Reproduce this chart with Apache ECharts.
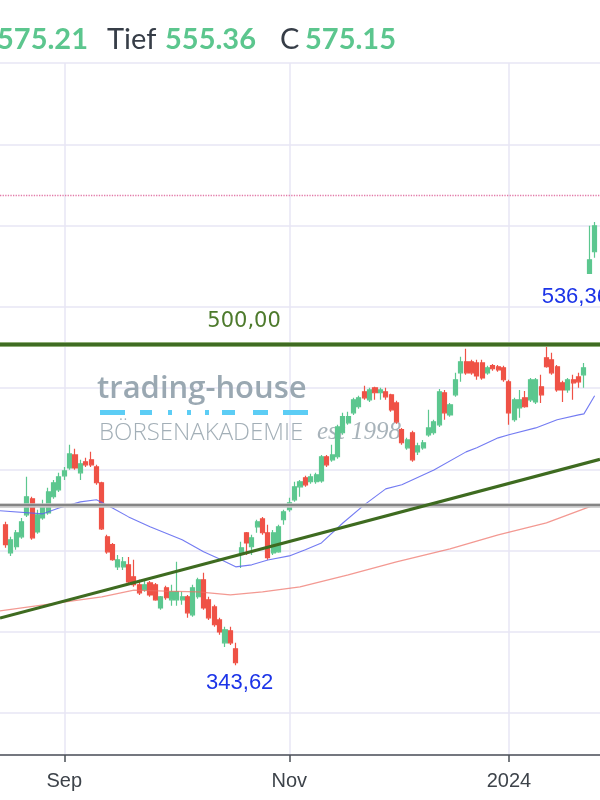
<!DOCTYPE html>
<html><head><meta charset="utf-8">
<script src="https://cdn.jsdelivr.net/npm/echarts@6/dist/echarts.min.js"></script>
<style>html,body{margin:0;padding:0;background:#fff}#c{width:600px;height:800px}</style>
</head><body><div id="c"></div>
<script>
const categories = [
'2023-08-16','2023-08-17','2023-08-18','2023-08-21','2023-08-22','2023-08-23','2023-08-24','2023-08-25','2023-08-28','2023-08-29','2023-08-30','2023-08-31',
'2023-09-01','2023-09-05','2023-09-06','2023-09-07','2023-09-08','2023-09-11','2023-09-12','2023-09-13','2023-09-14','2023-09-15','2023-09-18','2023-09-19','2023-09-20','2023-09-21','2023-09-22','2023-09-25','2023-09-26','2023-09-27','2023-09-28','2023-09-29',
'2023-10-02','2023-10-03','2023-10-04','2023-10-05','2023-10-06','2023-10-09','2023-10-10','2023-10-11','2023-10-12','2023-10-13','2023-10-16','2023-10-17','2023-10-18','2023-10-19','2023-10-20','2023-10-23','2023-10-24','2023-10-25','2023-10-26','2023-10-27','2023-10-30','2023-10-31',
'2023-11-01','2023-11-02','2023-11-03','2023-11-06','2023-11-07','2023-11-08','2023-11-09','2023-11-10','2023-11-13','2023-11-14','2023-11-15','2023-11-16','2023-11-17','2023-11-20','2023-11-21','2023-11-22','2023-11-24','2023-11-27','2023-11-28','2023-11-29','2023-11-30',
'2023-12-01','2023-12-04','2023-12-05','2023-12-06','2023-12-07','2023-12-08','2023-12-11','2023-12-12','2023-12-13','2023-12-14','2023-12-15','2023-12-18','2023-12-19','2023-12-20','2023-12-21','2023-12-22','2023-12-26','2023-12-27','2023-12-28','2023-12-29',
'2024-01-02','2024-01-03','2024-01-04','2024-01-05','2024-01-08','2024-01-09','2024-01-10','2024-01-11','2024-01-12','2024-01-16','2024-01-17','2024-01-18','2024-01-19','2024-01-22','2024-01-23','2024-01-24','2024-01-25','2024-01-26'];

const opens = [null,412.7,398.9,401.9,406.8,417.6,425.5,409.2,416.1,418.6,426.5,429.9,
436.8,440.7,447.1,438.3,443.7,444.7,441.2,433.4,406.8,402.9,392.0,392.0,393.0,387.1,383.2,380.7,384.1,383.2,371.8,381.7,
375.8,375.8,375.8,377.3,368.4,377.3,385.6,375.8,372.3,365.9,354.6,360.5,351.7,398.9,408.8,401.9,411.7,415.6,408.8,398.9,399.4,415.2,
420.1,425.0,431.4,435.8,433.9,433.9,434.3,446.2,444.7,446.2,458.0,462.9,467.8,470.8,478.2,474.2,480.1,477.7,478.2,476.7,472.7,
459.5,450.6,458.0,448.6,450.6,457.0,458.0,461.9,477.7,466.8,476.7,487.5,492.9,492.9,492.4,492.4,487.5,491.0,490.5,490.0,
483.1,464.4,470.3,475.2,474.2,473.2,480.6,494.9,493.9,490.5,482.6,479.1,484.1,485.5,486.5,536.4,547.1,null];
const closes = [null,402.9,405.3,408.8,414.2,426.5,406.3,417.6,422.5,428.9,433.4,436.3,
439.3,447.6,440.7,442.7,442.2,442.2,433.4,410.7,399.4,395.5,395.5,394.5,384.6,383.2,379.2,383.2,378.2,375.8,377.3,376.8,
379.7,379.7,377.3,369.4,381.7,385.6,371.8,366.9,363.5,360.0,361.0,354.6,344.8,401.4,403.8,406.3,414.2,408.8,396.5,408.8,411.7,419.1,
423.5,431.4,433.9,432.4,436.3,437.3,446.2,442.2,447.1,460.9,465.9,465.9,474.2,475.2,475.2,479.1,477.7,479.1,475.7,469.3,463.4,
453.1,454.5,444.7,451.6,453.1,460.4,463.4,478.2,467.8,471.8,484.1,492.9,487.5,487.5,486.0,485.0,490.0,489.5,489.0,484.1,
467.8,474.2,474.2,470.8,484.1,484.1,476.7,490.5,487.5,479.1,479.1,484.1,482.6,483.1,490.0,543.1,559.9,null];
const lows = [null,401.4,397.4,400.4,405.8,416.6,405.3,408.3,415.2,417.6,425.5,428.9,
434.8,439.8,439.8,434.8,441.2,441.2,432.4,410.2,398.4,395.0,390.5,390.5,383.7,382.2,378.2,379.7,377.3,375.3,370.9,375.8,
372.8,372.8,373.3,366.9,367.4,376.3,370.9,365.9,362.5,358.6,352.6,353.6,343.62,391.5,397.9,397.9,408.8,407.8,395.5,397.9,398.9,412.7,
419.1,424.0,426.5,431.4,432.9,432.9,433.4,441.2,443.7,445.2,457.0,461.9,466.8,469.8,474.2,473.2,474.2,474.2,474.2,468.3,462.4,
452.1,449.6,443.7,447.1,449.6,456.0,457.0,460.9,464.4,465.9,475.7,483.1,486.5,486.5,484.1,484.1,486.5,488.5,488.0,483.1,
461.9,463.4,465.4,470.3,473.2,472.2,472.7,490.0,486.5,478.2,473.2,477.7,474.2,480.1,480.1,536.3,544.1,null];
const highs = [null,414.2,406.8,410.2,416.1,436.3,426.5,420.1,425.0,430.9,434.8,438.3,
441.2,452.1,450.1,444.7,445.7,448.6,442.2,433.9,407.8,403.8,397.9,396.9,396.9,395.5,385.6,385.6,385.1,384.1,377.7,382.7,
383.2,394.5,379.7,378.2,383.2,386.6,389.1,377.3,373.3,366.9,362.5,362.5,354.6,404.3,409.2,407.8,415.2,416.6,412.7,410.2,412.7,420.1,
426.0,433.9,434.8,436.8,437.8,438.3,447.1,447.1,452.1,461.9,467.8,468.3,475.2,476.2,481.1,480.1,480.6,480.1,480.1,477.2,473.7,
460.4,455.5,459.0,453.1,454.5,469.3,464.4,479.6,479.1,472.7,487.5,495.4,499.3,493.9,493.9,493.9,491.0,491.9,491.4,491.0,
484.1,475.2,479.1,478.6,485.0,485.0,486.5,501.3,497.4,491.4,483.6,485.0,486.5,487.5,492.4,559.9,561.8,null];

// moving averages read at sample points
const blueMA = [['2023-08-16',419.6],['2023-08-28',418.1],['2023-08-31',421.0],['2023-09-07',424.0],['2023-09-12',425.0],['2023-09-15',421.0],['2023-09-20',416.6],['2023-09-26',411.7],['2023-10-04',405.3],['2023-10-10',399.4],['2023-10-13',395.9],['2023-10-18',392.0],['2023-10-23',393.0],['2023-10-26',395.4],['2023-11-01',397.4],['2023-11-06',400.4],['2023-11-09',403.8],['2023-11-15',413.6],['2023-11-21',422.5],['2023-11-28',430.4],['2023-12-01',432.4],['2023-12-11',439.7],['2023-12-19',448.6],['2023-12-21',450.6],['2023-12-28',455.5],['2024-01-02',457.0],['2024-01-09',460.4],['2024-01-16',464.4],['2024-01-22',466.8],['2024-01-23',467.3],['2024-01-25',476.2]];
const redMA = [['2023-08-16',370.3],['2023-09-13',377.2],['2023-09-21',380.6],['2023-09-29',380.1],['2023-10-09',379.7],['2023-10-17',378.2],['2023-10-25',379.7],['2023-11-03',382.1],['2023-11-16',388.0],['2023-11-30',394.4],['2023-12-14',400.8],['2023-12-28',407.7],['2024-01-11',413.6],['2024-01-25',422.5]];

const resistance = 501.8;      // drawn "500,00" line
const resistanceLabel = '500,00';
const supportGray = 422.5;
const lastPrice = 574.7;
const trendStart = ['2023-08-16', 366.8];
const trendEnd = ['2024-01-26', 444.9];
const lowMark = ['2023-10-18', 343.62, '343,62'];
const gapMark = ['2024-01-24', 536.3, '536,36'];

const tickDates = ['2023-09-01','2023-11-01','2024-01-02'];
const tickLabels = ['Sep','Nov','2024'];
const header = {hoch:'575.21', tief:'555.36', close:'575.15'};

const candleData = categories.map((d,i)=> opens[i]==null ? '-' : [opens[i], closes[i], lows[i], highs[i]]);
const tickIdx = tickDates.map(d=>categories.indexOf(d));
const showTick = (i)=> tickIdx.indexOf(i) >= 0;

const UP='#5cc78f', DOWN='#ef5246';
const BLUE_DASH='#5ccdf5';
const chart = echarts.init(document.getElementById('c'), null, {renderer:'canvas'});
chart.setOption({
  animation:false,
  backgroundColor:'#ffffff',
  grid:{left:-2.9, right:-1.9, top:63, bottom:45, containLabel:false},
  xAxis:{
    type:'category', data:categories, boundaryGap:false,
    axisLine:{show:true, lineStyle:{color:'#4b5057', width:1.5}},
    axisTick:{show:true, length:7, interval:(i)=>showTick(i), lineStyle:{color:'#4b5057', width:1.5}},
    axisLabel:{show:true, interval:(i)=>showTick(i), margin:16, color:'#3d434a', fontSize:20, fontFamily:'Liberation Sans',
      formatter:(v)=>{const k=tickDates.indexOf(v); return k>=0?tickLabels[k]:'';}},
    splitLine:{show:true, interval:(i)=>showTick(i), lineStyle:{color:'#e7e6f4', width:1.5}}
  },
  yAxis:{
    type:'value', min:299.4, max:640, minInterval:40, maxInterval:40, scale:true,
    axisLine:{show:false}, axisTick:{show:false}, axisLabel:{show:false},
    splitLine:{show:true, lineStyle:{color:'#e7e6f4', width:1.5}}
  },
  graphic:{elements:[
    {type:'text', x:-3, y:40, z:10, style:{text:header.hoch, font:'bold 29px Lato', fill:'#5cc68e', verticalAlign:'middle'}},
    {type:'text', x:107, y:40, z:10, style:{text:'Tief', font:'29px Lato', fill:'#363d47', verticalAlign:'middle'}},
    {type:'text', x:165, y:40, z:10, style:{text:header.tief, font:'bold 29px Lato', fill:'#5cc68e', verticalAlign:'middle'}},
    {type:'text', x:280, y:40, z:10, style:{text:'C', font:'29px Lato', fill:'#363d47', verticalAlign:'middle'}},
    {type:'text', x:305, y:40, z:10, style:{text:header.close, font:'bold 29px Lato', fill:'#5cc68e', verticalAlign:'middle'}},
    // watermark
    {type:'text', x:97, y:389, z:1, style:{text:'trading-house', font:'600 31px "Open Sans"', fill:'#9aa8b2', verticalAlign:'middle'}},
    {type:'rect', z:1, shape:{x:100,y:410,width:25,height:5}, style:{fill:BLUE_DASH}},
    {type:'rect', z:1, shape:{x:140,y:410,width:12,height:5}, style:{fill:BLUE_DASH}},
    {type:'rect', z:1, shape:{x:168,y:410,width:4,height:5}, style:{fill:BLUE_DASH}},
    {type:'rect', z:1, shape:{x:187,y:410,width:4,height:5}, style:{fill:BLUE_DASH}},
    {type:'rect', z:1, shape:{x:205,y:410,width:4,height:5}, style:{fill:BLUE_DASH}},
    {type:'rect', z:1, shape:{x:222,y:410,width:13,height:5}, style:{fill:BLUE_DASH}},
    {type:'rect', z:1, shape:{x:253,y:410,width:15,height:5}, style:{fill:BLUE_DASH}},
    {type:'rect', z:1, shape:{x:283,y:410,width:25,height:5}, style:{fill:BLUE_DASH}},
    {type:'text', x:99, y:433, z:1, style:{text:'BÖRSENAKADEMIE', font:'300 24px "Open Sans"', fill:'#a3afb7', verticalAlign:'middle'}},
    {type:'text', x:317, y:432, z:1, style:{text:'est 1998', font:'italic 25px "Liberation Serif"', fill:'#a8b3ba', verticalAlign:'middle'}}
  ]},
  series:[
    {type:'line', data:[], z:2, silent:true,
      markLine:{silent:true, symbol:['none','none'], label:{show:false}, animation:false,
        data:[
          {yAxis:lastPrice, lineStyle:{color:'#e27aa8', type:'dotted', width:1.3}},
          {yAxis:supportGray, lineStyle:{color:'#c4c4c4', type:'solid', width:4.5}},
          {yAxis:supportGray, lineStyle:{color:'#858585', type:'solid', width:1.8}},
          {yAxis:resistance, lineStyle:{color:'#8fae78', type:'solid', width:5}},
          {yAxis:resistance, lineStyle:{color:'#3f6c22', type:'solid', width:3}},
          [{coord:trendStart, lineStyle:{color:'#3e6b20', type:'solid', width:3.2}},{coord:trendEnd}]
        ]}},
    {type:'candlestick', data:candleData, z:3, barWidth:4.6, silent:true,
      itemStyle:{color:UP, color0:DOWN, borderColor:UP, borderColor0:DOWN, borderWidth:1.2},
      markPoint:{silent:true, symbol:'circle', symbolSize:1, itemStyle:{color:'rgba(0,0,0,0)'},
        data:[
          {coord:[lowMark[0], lowMark[1]], label:{show:true, formatter:lowMark[2], position:'inside', offset:[4,18], color:'#1c34e8', fontSize:22, fontFamily:'Liberation Sans'}},
          {coord:[gapMark[0], gapMark[1]], label:{show:true, formatter:gapMark[2], position:'inside', offset:[-14,23], color:'#1c34e8', fontSize:22, fontFamily:'Liberation Sans'}}
        ]}},
    {type:'line', data:blueMA, z:4, symbol:'none', silent:true, lineStyle:{color:'rgba(90,100,240,0.85)', width:1.1}},
    {type:'line', data:redMA, z:4, symbol:'none', silent:true, lineStyle:{color:'rgba(238,110,100,0.7)', width:1.3}},
    {type:'line', data:[], z:5, silent:true,
      markPoint:{silent:true, symbol:'circle', symbolSize:1, itemStyle:{color:'rgba(0,0,0,0)'},
        data:[{coord:['2023-10-19', resistance], label:{show:true, formatter:resistanceLabel, position:'inside', offset:[3,-22], color:'#4d7a2c', fontSize:21, fontFamily:'DejaVu Sans'}}]}}
  ]
});
</script></body></html>
